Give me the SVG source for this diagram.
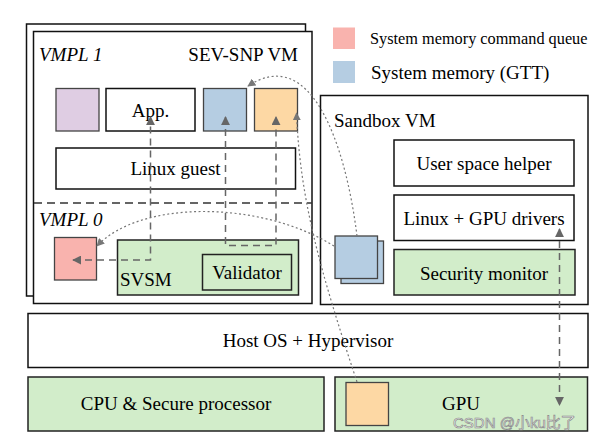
<svg xmlns="http://www.w3.org/2000/svg" width="599" height="443" viewBox="0 0 599 443">
<defs>
<style>
text { font-family: "Liberation Serif", "Times New Roman", serif; font-size: 19px; fill: #000; }
.it { font-style: italic; }
.mid { text-anchor: middle; }
.box { fill: #fff; stroke: #111; stroke-width: 1.5; }
.green { fill: #d2edca; stroke: #222; stroke-width: 1.5; }
.sq { stroke: #444; stroke-width: 1.3; }
.sep { stroke: #333; stroke-width: 1.5; stroke-dasharray: 8 5; fill: none; }
.dash { fill: none; stroke: #666; stroke-width: 1.5; stroke-dasharray: 7 5; }
.dot { fill: none; stroke: #777; stroke-width: 1.2; stroke-dasharray: 2 2.5; }
.wm { font-family: "Liberation Sans", "Noto Sans CJK SC", sans-serif; font-size: 15px; fill: #fff; stroke: #8a8a8a; stroke-width: 0.7; }
</style>
<marker id="ah" viewBox="0 0 10 10" refX="9" refY="5" markerWidth="9" markerHeight="9" markerUnits="userSpaceOnUse" orient="auto-start-reverse"><path d="M0,0 L10,5 L0,10 z" fill="#666"/></marker>
<marker id="ahd" viewBox="0 0 10 10" refX="9" refY="5" markerWidth="8" markerHeight="8" markerUnits="userSpaceOnUse" orient="auto"><path d="M0,0 L10,5 L0,10 z" fill="#777"/></marker>
</defs>
<rect width="599" height="443" fill="#fff"/>

<g id="legend">
<rect x="333" y="27.5" width="22" height="21.5" fill="#f9b3ae"/>
<text x="370" y="44" style="font-size:16.3px">System memory command queue</text>
<rect x="333" y="61" width="22" height="22" fill="#b5cde2"/>
<text x="371" y="79">System memory (GTT)</text>
</g>

<g id="sev-snp-vm">
<rect class="box" x="26.5" y="24" width="279" height="272"/>
<rect class="box" x="33.5" y="31.5" width="278.5" height="272"/>
<line class="sep" x1="34" y1="203" x2="312" y2="203"/>
<text class="it" x="39" y="61">VMPL 1</text>
<text x="298" y="61" text-anchor="end">SEV-SNP VM</text>
<text class="it" x="39" y="226">VMPL 0</text>
</g>

<g id="purple-mem"><rect class="sq" x="56" y="88.5" width="43" height="42.5" fill="#dfcde3"/></g>
<g id="app"><rect class="box" x="106" y="88.5" width="89" height="42.5"/><text class="mid" x="150.5" y="117">App.</text></g>
<g id="blue-mem"><rect class="sq" x="203.5" y="88.5" width="43" height="42.5" fill="#b5cde2"/></g>
<g id="orange-mem"><rect class="sq" x="254.5" y="88.5" width="43" height="42.5" fill="#fdd8a4"/></g>
<g id="linux-guest"><rect class="box" x="56" y="148" width="239.5" height="41"/><text class="mid" x="175.5" y="175">Linux guest</text></g>
<g id="pink-mem"><rect class="sq" x="54.5" y="237.5" width="42" height="42.5" fill="#f9b3ae"/></g>
<g id="svsm"><rect class="green" x="117.5" y="240" width="181" height="55"/><text x="120" y="286">SVSM</text></g>
<g id="validator"><rect class="green" x="202.5" y="254.5" width="89" height="35.5"/><text class="mid" x="247" y="279">Validator</text></g>

<g id="sandbox-vm">
<rect class="box" x="320.5" y="95.5" width="267.5" height="209"/>
<text x="334" y="126.5">Sandbox VM</text>
</g>
<g id="user-space-helper"><rect class="box" x="394" y="140" width="180" height="46"/><text class="mid" x="484" y="169.5">User space helper</text></g>
<g id="linux-gpu-drivers"><rect class="box" x="394" y="195" width="180" height="45.5"/><text class="mid" x="484" y="224.5">Linux + GPU drivers</text></g>
<g id="security-monitor"><rect class="green" x="394" y="249.5" width="181" height="45.5"/><text class="mid" x="484" y="279.5">Security monitor</text></g>
<g id="sandbox-mem">
<rect class="sq" x="341" y="241" width="42.5" height="42.5" fill="#b5cde2"/>
<rect class="sq" x="335" y="236" width="42.5" height="42.5" fill="#b5cde2"/>
</g>

<g id="host-os"><rect class="box" x="28" y="313.5" width="560" height="54"/><text class="mid" x="308" y="347">Host OS + Hypervisor</text></g>
<g id="cpu"><rect class="green" x="28" y="377" width="296" height="54"/><text class="mid" x="176" y="410">CPU &amp; Secure processor</text></g>
<g id="gpu"><rect class="green" x="335" y="377" width="252.5" height="54"/><text class="mid" x="461" y="410">GPU</text>
<rect class="sq" x="346" y="382.5" width="42.5" height="43" fill="#fdd8a4"/></g>

<g id="connectors">
<path class="dash" d="M73 260 H150.5 V117" marker-start="url(#ah)" marker-end="url(#ah)"/>
<path class="dash" d="M225.5 117 V245.5 H276 V117" marker-start="url(#ah)" marker-end="url(#ah)"/>
<path class="dash" d="M559.5 229 V405" marker-start="url(#ah)" marker-end="url(#ah)"/>
<path class="dot" d="M334 246 C260 200, 140 200, 97 246" marker-end="url(#ahd)"/>
<path class="dot" d="M357 236 C345 140, 310 45, 248 86" marker-end="url(#ahd)"/>
<path class="dot" d="M357 382 C320 270, 300 200, 296.5 113" marker-end="url(#ahd)"/>
</g>

<text class="wm" x="453" y="428">CSDN @小ku比了</text>
</svg>
